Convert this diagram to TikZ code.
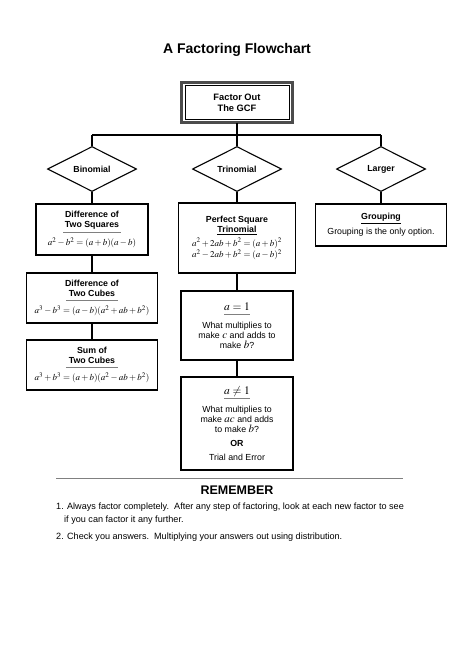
\documentclass[tikz,border=0pt]{standalone}
\usepackage{mathptmx}
\usepackage{fontspec}
\setmainfont{Liberation Sans}
\usetikzlibrary{shapes.geometric}
\newcommand{\grule}[1]{{\color{gray}\rule[2.5pt]{#1}{0.7pt}}}
\newcommand{\fm}[1]{{\fontsize{9}{11}\selectfont$#1$}}
\newcommand{\vm}[1]{{\fontsize{11}{10.2}\selectfont$#1$}}
\begin{document}
\begin{tikzpicture}[x=1pt,y=-1pt,
  box/.style={draw, line width=1.1pt, align=center, font=\fontsize{8.8}{10.2}\selectfont, inner sep=1pt},
  dia/.style={draw, diamond, aspect=2, line width=1.1pt, minimum width=89pt, minimum height=45pt, inner sep=0pt, font=\bfseries\fontsize{8.8}{10}\selectfont},
  conn/.style={line width=1.1pt}]
\useasboundingbox (0,0) rectangle (474,669);
\fill[white] (0,0) rectangle (474,669);

\node[font=\bfseries\fontsize{14}{16}\selectfont] (title) at (237,50) {A Factoring Flowchart};

% GCF box
\node[draw, line width=0.9pt, minimum width=104pt, minimum height=34pt, align=center,
      font=\bfseries\fontsize{9.3}{11}\selectfont] (gcf) at (237,102.5) {Factor Out\\The GCF};
\draw[gray!60!black, line width=2.6pt] ([xshift=-2.8pt,yshift=2.8pt]gcf.north west) rectangle ([xshift=2.8pt,yshift=-2.8pt]gcf.south east);

% diamonds
\node[dia] (bin) at (92,169) {Binomial};
\node[dia] (tri) at (237,169) {Trinomial};
\node[dia] (lar) at (381,169) {Larger};

\coordinate (jc) at (237,135);
\coordinate (jl) at (92,135);
\coordinate (jr) at (381,135);
\draw[conn] ([yshift=-2.8pt]gcf.south) -- (jc);
\draw[conn] (jl) -- (jr);
\draw[conn] (jl) -- (bin.north);
\draw[conn] (jc) -- (tri.north);
\draw[conn] (jr) -- (lar.north);

% binomial column
\node[box, minimum width=112pt, minimum height=51pt] (dts) at (92,229.5)
 {\textbf{Difference of}\\\textbf{Two Squares}\\[-3pt]\grule{58pt}\\[0pt]\fm{a^2-b^2=(a+b)(a-b)}};
\node[box, minimum width=131pt, minimum height=50pt] (dtc) at (92,298)
 {\textbf{Difference of}\\\textbf{Two Cubes}\\[-3pt]\grule{52pt}\\[0pt]\fm{a^3-b^3=(a-b)(a^2+ab+b^2)}};
\node[box, minimum width=131pt, minimum height=50pt] (stc) at (92,365)
 {\textbf{Sum of}\\\textbf{Two Cubes}\\[-3pt]\grule{52pt}\\[0pt]\fm{a^3+b^3=(a+b)(a^2-ab+b^2)}};
\draw[conn] (bin.south) -- (dts.north);
\draw[conn] (dts.south) -- (dtc.north);
\draw[conn] (dtc.south) -- (stc.north);

% trinomial column
\node[box, minimum width=117pt, minimum height=70pt] (pst) at (237,238)
 {\textbf{Perfect Square}\\\textbf{\underline{Trinomial}}\\[3pt]\fm{a^2+2ab+b^2=(a+b)^2}\\[1pt]\fm{a^2-2ab+b^2=(a-b)^2}};
\node[box, minimum width=112pt, minimum height=69pt] (a1) at (237,325.5)
 {{\fontsize{11.5}{12}\selectfont$a=1$}\\[-3.5pt]\grule{26pt}\\[1pt]What multiplies to\\make \vm{c} and adds to\\make \vm{b}?};
\node[box, minimum width=112pt, minimum height=93pt] (an1) at (237,423.5)
 {{\fontsize{11.5}{12}\selectfont$a\neq 1$}\\[-3.5pt]\grule{26pt}\\[1pt]What multiplies to\\make \vm{ac} and adds\\to make \vm{b}?\\[4pt]\textbf{OR}\\[4pt]Trial and Error};
\draw[conn] (tri.south) -- (pst.north);
\draw[conn] (pst.south) -- (a1.north);
\draw[conn] (a1.south) -- (an1.north);

% larger column
\node[box, minimum width=131pt, minimum height=42pt] (grp) at (381,225)
 {\textbf{\underline{Grouping}}\\[5pt]Grouping is the only option.};
\draw[conn] (lar.south) -- (grp.north);

% remember
\coordinate (rl) at (56,478);
\coordinate (rr) at (403,478);
\draw[gray, line width=0.8pt] (rl) -- (rr);
\node[font=\bfseries\fontsize{12.5}{14}\selectfont] (rem) at (237,490) {REMEMBER};
\node[anchor=north west, align=left, inner sep=0pt, font=\fontsize{9.1}{12.8}\selectfont] (r1) at (56,503)
 {1. Always factor completely.\ \ After any step of factoring, look at each new factor to see\\
 \hspace*{8pt}if you can factor it any further.};
\node[anchor=north west, align=left, inner sep=0pt, font=\fontsize{9.1}{12.8}\selectfont] (r2) at (56,533)
 {2. Check you answers.\ \ Multiplying your answers out using distribution.};
\end{tikzpicture}
\end{document}
